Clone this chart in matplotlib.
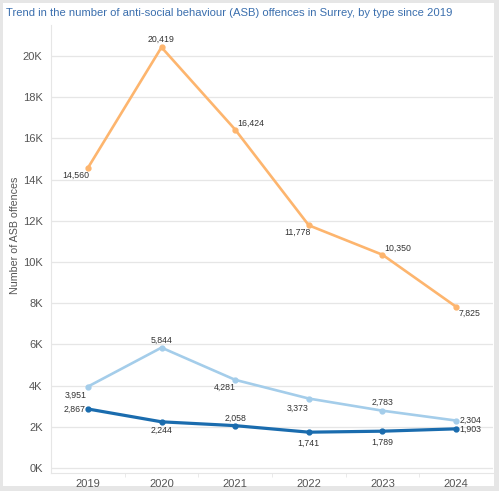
import matplotlib.pyplot as plt
from matplotlib.patches import Rectangle

plt.rcParams['font.family'] = ['Liberation Sans', 'DejaVu Sans']

years = ['2019', '2020', '2021', '2022', '2023', '2024']
personal = [14560, 20419, 16424, 11778, 10350, 7825]
nuisance = [3951, 5844, 4281, 3373, 2783, 2304]
environmental = [2867, 2244, 2058, 1741, 1789, 1903]
yticks = [0, 2000, 4000, 6000, 8000, 10000, 12000, 14000, 16000, 18000, 20000]
ytick_labels = ['0K', '2K', '4K', '6K', '8K', '10K', '12K', '14K', '16K', '18K', '20K']

# label offsets in pixels (dx, dy) and alignment for each point
off_personal = [(-12, -7, 'center'), (0, 8, 'center'), (2, 6, 'left'),
                (-11, -7, 'center'), (2, 6, 'left'), (2, -7, 'left')]
off_nuisance = [(-12, -9, 'center'), (0, 7, 'center'), (-10, -7, 'center'),
                (-11, -10, 'center'), (0, 8, 'center'), (3, 0, 'left')]
off_environ = [(-2, 0, 'right'), (0, -9, 'center'), (0, 7, 'center'),
               (0, -11, 'center'), (0, -11, 'center'), (3, 0, 'left')]

W, H = 499, 491
fig = plt.figure(figsize=(W / 100, H / 100), dpi=100)
fig.patch.set_facecolor('#e6e6e6')
fig.patches.append(Rectangle((3 / W, 1 - 486 / H), 491 / W, 483 / H,
                             transform=fig.transFigure, facecolor='white',
                             edgecolor='none', zorder=-5))

ax = fig.add_axes([51 / W, 1 - 473 / H, (493 - 51) / W, (473 - 25) / H])
ax.set_facecolor('none')

x = list(range(len(years)))
series = [(personal, '#fdb56e', 1.9, off_personal),
          (nuisance, '#a4cdea', 1.9, off_nuisance),
          (environmental, '#1a6cae', 2.3, off_environ)]
for vals, col, lw, offs in series:
    ax.plot(x, vals, color=col, lw=lw, marker='o', ms=3.5, zorder=3)
    for xi, v, (dx, dy, ha) in zip(x, vals, offs):
        ax.annotate(f'{v:,}', (xi, v), xytext=(dx, dy), textcoords='offset pixels',
                    ha=ha, va='center', fontsize=6.3, color='#333333', zorder=4)

ax.set_xlim(-0.5, 5.5)
ax.set_ylim(-240, 21500)
ax.set_yticks(yticks)
ax.set_yticklabels(ytick_labels)
ax.set_xticks(x)
ax.set_xticklabels(years)
ax.set_xticks([i + 0.5 for i in range(5)], minor=True)
ax.tick_params(axis='y', length=0, pad=6, labelsize=8, labelcolor='#555555')
ax.tick_params(axis='x', which='major', length=0, pad=4, labelsize=8, labelcolor='#555555')
ax.tick_params(axis='x', which='minor', length=3, color='#e6e6e6')
ax.grid(axis='y', color='#e6e6e6', lw=0.9)
for s in ['top', 'right']:
    ax.spines[s].set_visible(False)
ax.spines['left'].set_color('#e6e6e6')
ax.spines['bottom'].set_color('#e6e6e6')
ax.set_ylabel('Number of ASB offences', fontsize=7.7, color='#555555')
ax.yaxis.set_label_coords(-0.070, 0.53)

fig.text(6 / W, 1 - 13 / H, 'Trend in the number of anti-social behaviour (ASB) offences in Surrey, by type since 2019',
         fontsize=8.1, color='#3b6fae', va='center', ha='left')

fig.savefig('out.png', dpi=100)
